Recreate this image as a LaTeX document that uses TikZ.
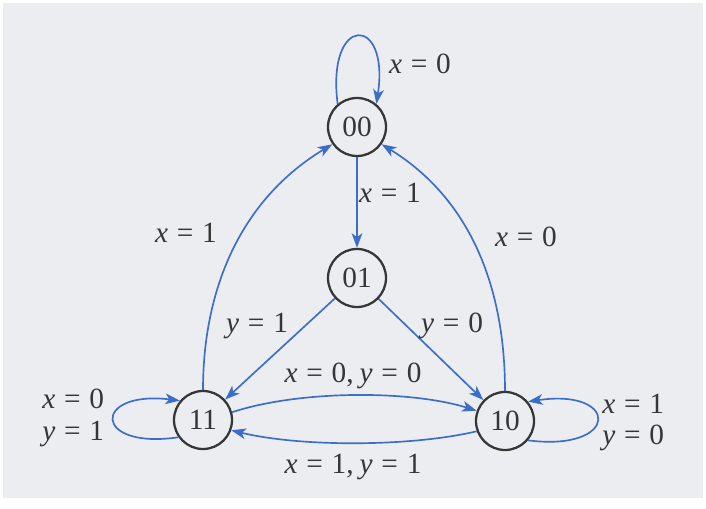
\documentclass[tikz,border=0pt]{standalone}
\usepackage{fontspec}
\setmainfont{Liberation Serif}
\usetikzlibrary{arrows.meta}
\definecolor{bg}{HTML}{EBEDF1}
\definecolor{edgeblue}{HTML}{3C6EC8}
\definecolor{ink}{HTML}{363636}
\newcommand{\lbleq}[2]{\textit{#1}\hspace{0.3em}=\hspace{0.3em}#2}
\begin{document}
\begin{tikzpicture}[x=0.75pt,y=-0.75pt,
  state/.style={circle,draw=ink,line width=1.7pt,minimum size=43.5pt,inner sep=0pt,
    font=\rmfamily\fontsize{22}{24}\selectfont,text=ink},
  edge/.style={draw=edgeblue,line width=1.25pt,-{Stealth[length=11pt,width=8pt,inset=3pt]}},
  lbl/.style={font=\rmfamily\fontsize{22}{24}\selectfont,text=ink,inner sep=0pt,anchor=base}]
\useasboundingbox (0,0) rectangle (706,509);
\fill[white] (0,0) rectangle (706,509);
\fill[bg] (3,3) rectangle (703,498);

\node[state] (n00) at (357,127) {00};
\node[state] (n01) at (357,278) {01};
\node[state] (n11) at (203,420) {11};
\node[state] (n10) at (505,421) {10};

\draw[edge] (n00.130) .. controls (326,14) and (390,14) .. (n00.50);
\draw[edge] (n00) -- (n01);
\draw[edge] (n01) -- (n11);
\draw[edge] (n01) -- (n10);
\draw[edge] (n11.90) .. controls (203,290) and (240,200) .. (n00.215);
\draw[edge] (n10.90) .. controls (505,290) and (472,200) .. (n00.-35);
\draw[edge] (n11.15) .. controls (300,390) and (410,390) .. (n10.160);
\draw[edge] (n10.200) .. controls (410,447) and (300,447) .. (n11.-20);
\draw[edge] (n11.215) .. controls (92,450) and (92,390) .. (n11.140);
\draw[edge] (n10.-40) .. controls (620,452) and (620,388) .. (n10.40);

\node[lbl] (l1) at (420,74) {\lbleq{x}{0}};
\node[lbl] (l2) at (390,203) {\lbleq{x}{1}};
\node[lbl] (l3) at (186,243) {\lbleq{x}{1}};
\node[lbl] (l4) at (526,247) {\lbleq{x}{0}};
\node[lbl] (l5) at (257,332) {\lbleq{y}{1}};
\node[lbl] (l6) at (452,332) {\lbleq{y}{0}};
\node[lbl] (l7) at (353,382) {\lbleq{x}{0},\hspace{0.2em}\lbleq{y}{0}};
\node[lbl] (l8) at (353,473) {\lbleq{x}{1},\hspace{0.2em}\lbleq{y}{1}};
\node[lbl,anchor=base west] (l9) at (42,408) {\lbleq{x}{0}};
\node[lbl,anchor=base west] (l10) at (42,440) {\lbleq{y}{1}};
\node[lbl,anchor=base west] (l11) at (602,413) {\lbleq{x}{1}};
\node[lbl,anchor=base west] (l12) at (602,444) {\lbleq{y}{0}};
\end{tikzpicture}
\end{document}
